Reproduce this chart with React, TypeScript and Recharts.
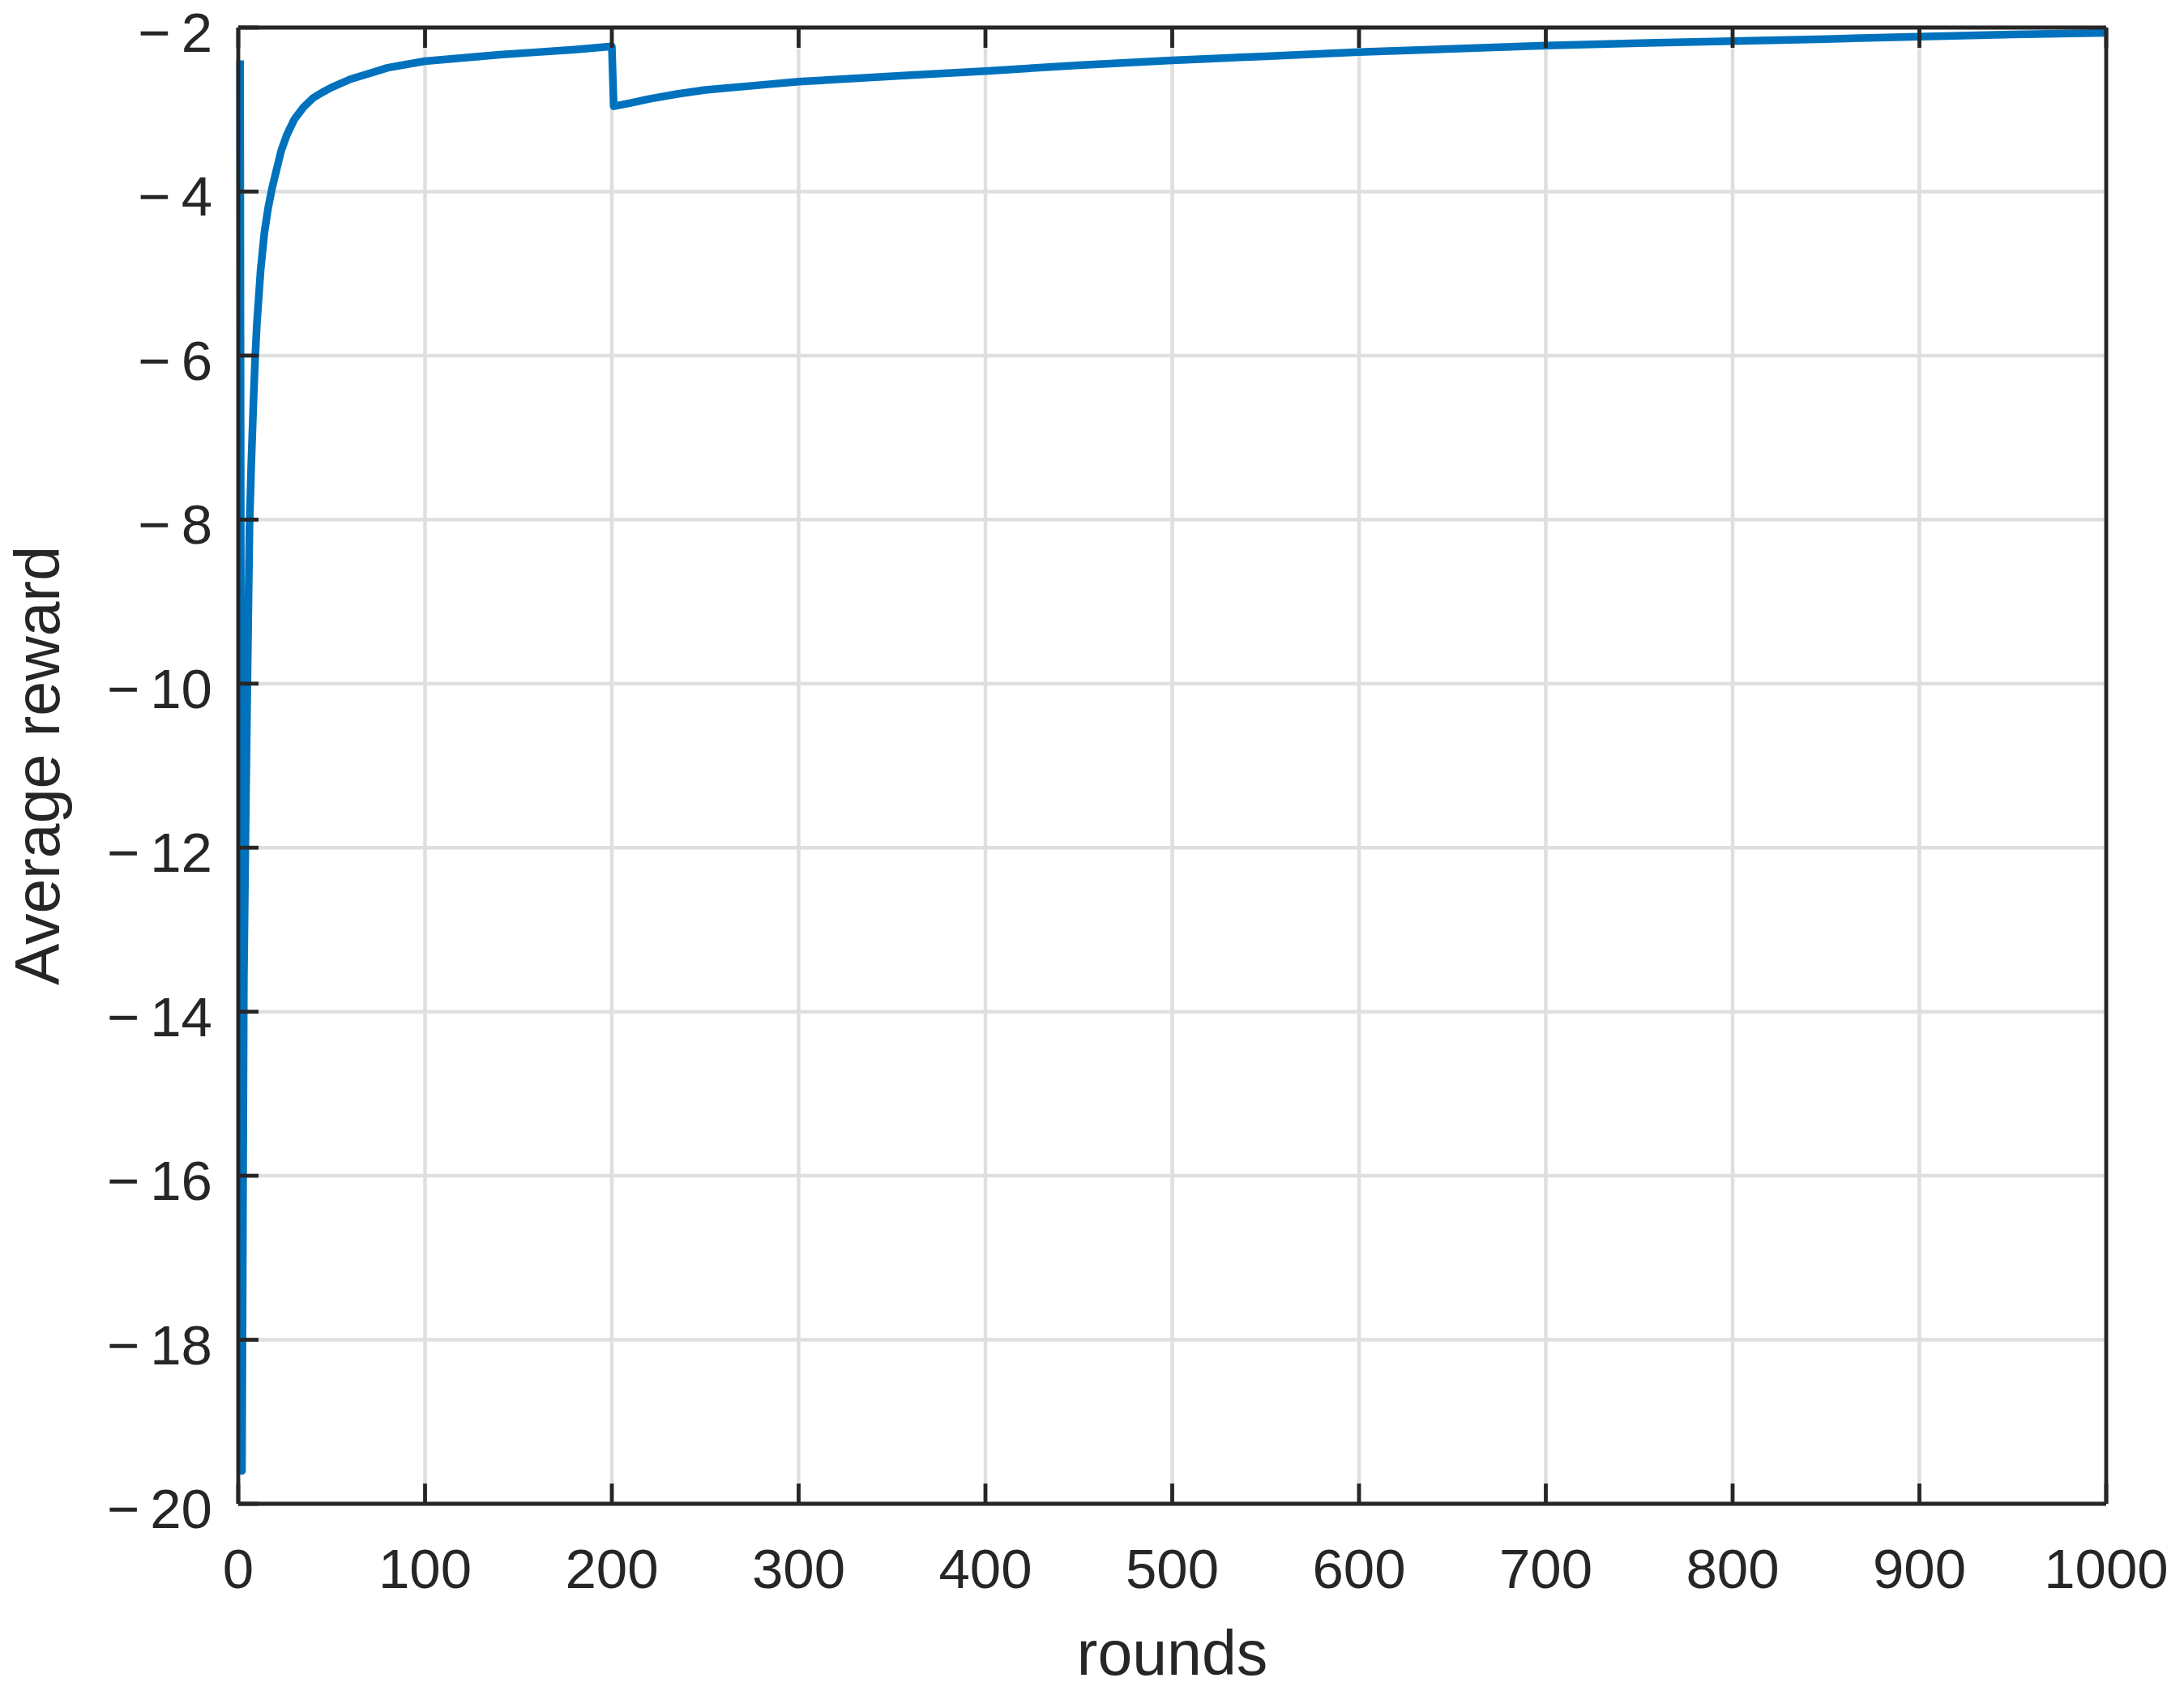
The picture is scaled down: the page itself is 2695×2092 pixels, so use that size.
import { LineChart, Line, XAxis, YAxis, CartesianGrid } from "recharts";

const rounds = [
  1, 2, 3, 4, 5, 6, 7, 8, 9, 10, 12, 14, 16, 18, 20, 23, 26, 30, 35, 40, 45, 50, 60, 70, 80, 90, 100,
  120, 140, 160, 180, 200, 201, 210, 220, 235, 250, 275, 300, 330, 360, 400, 450, 500, 550, 600, 650,
  700, 750, 800, 850, 900, 950, 1000,
];
const avgReward = [
  -2.4, -19.6, -13.6, -11.6, -9.8, -8.1, -7.3, -6.65, -6.05, -5.6, -4.95, -4.5, -4.2, -3.97, -3.78,
  -3.5, -3.31, -3.12, -2.97, -2.86, -2.79, -2.73, -2.63, -2.56, -2.49, -2.45, -2.41, -2.37, -2.33,
  -2.3, -2.27, -2.23, -2.96, -2.92, -2.87, -2.81, -2.76, -2.71, -2.66, -2.62, -2.58, -2.53, -2.46,
  -2.4, -2.35, -2.3, -2.26, -2.22, -2.19, -2.165, -2.14, -2.11, -2.085, -2.065,
];
const xTicks = [0, 100, 200, 300, 400, 500, 600, 700, 800, 900, 1000];
const yTicks = [-20, -18, -16, -14, -12, -10, -8, -6, -4, -2];

const data = rounds.map((r, i) => ({ round: r, reward: avgReward[i] }));

const INK = "#262626";
const FONT = "'Liberation Sans', Arial, Helvetica, sans-serif";
const TICK_LEN = 25;
const AXIS_W = 4.8;

function BottomTick({ x, y, payload }: any) {
  return (
    <g>
      <line x1={x} y1={y} x2={x} y2={y - TICK_LEN} stroke={INK} strokeWidth={AXIS_W} />
      <text x={x} y={y + 104} textAnchor="middle" fontFamily={FONT} fontSize={69} fill={INK}>
        {payload.value}
      </text>
    </g>
  );
}

// y labels: a minus sign, a small gap, then the magnitude
function LeftTick({ x, y, payload }: any) {
  const v = payload.value;
  return (
    <g>
      <line x1={x} y1={y} x2={x + TICK_LEN} y2={y} stroke={INK} strokeWidth={AXIS_W} />
      <text x={x - 32} y={y + 30} textAnchor="end" fontFamily={FONT} fontSize={69} fill={INK}>
        {v < 0 && <tspan>{"\u2212"}</tspan>}
        <tspan dx={v < 0 ? 13 : 0}>{Math.abs(v)}</tspan>
      </text>
    </g>
  );
}

function TopTick({ x, y }: any) {
  return <line x1={x} y1={y} x2={x} y2={y + TICK_LEN} stroke={INK} strokeWidth={AXIS_W} />;
}

function RightTick({ x, y }: any) {
  return <line x1={x} y1={y} x2={x - TICK_LEN} y2={y} stroke={INK} strokeWidth={AXIS_W} />;
}

export default function App() {
  return (
    <div style={{ position: "absolute", left: 0, top: 0, background: "#fff" }}>
      <LineChart width={2695} height={2092} data={data} margin={{ top: 33, right: 95, bottom: 0, left: 0 }}>
        <CartesianGrid stroke="#dfdfdf" strokeWidth={4.5} />
        <XAxis
          dataKey="round"
          type="number"
          domain={[0, 1000]}
          ticks={xTicks}
          interval={0}
          height={236}
          tickSize={0}
          tickMargin={0}
          tickLine={false}
          axisLine={{ stroke: INK, strokeWidth: AXIS_W }}
          tick={<BottomTick />}
          label={{
            value: "rounds",
            position: "insideBottom",
            offset: 25,
            fontFamily: FONT,
            fontSize: 77,
            fill: INK,
          }}
        />
        <XAxis
          xAxisId="top"
          orientation="top"
          dataKey="round"
          type="number"
          domain={[0, 1000]}
          ticks={xTicks}
          interval={0}
          height={1}
          tickSize={0}
          tickMargin={0}
          tickLine={false}
          axisLine={{ stroke: INK, strokeWidth: AXIS_W }}
          tick={<TopTick />}
        />
        <YAxis
          type="number"
          domain={[-20, -2]}
          ticks={yTicks}
          interval={0}
          width={294}
          tickSize={0}
          tickMargin={0}
          tickLine={false}
          axisLine={{ stroke: INK, strokeWidth: AXIS_W }}
          tick={<LeftTick />}
          label={{
            value: "Average reward",
            angle: -90,
            position: "insideLeft",
            offset: 0,
            dx: 46,
            fontFamily: FONT,
            fontSize: 77,
            fill: INK,
            style: { textAnchor: "middle" },
          }}
        />
        <YAxis
          yAxisId="right"
          orientation="right"
          type="number"
          domain={[-20, -2]}
          ticks={yTicks}
          interval={0}
          width={1}
          tickSize={0}
          tickMargin={0}
          tickLine={false}
          axisLine={{ stroke: INK, strokeWidth: AXIS_W }}
          tick={<RightTick />}
        />
        <Line
          type="linear"
          dataKey="reward"
          stroke="#0072BD"
          strokeWidth={9.5}
          strokeLinejoin="round"
          dot={false}
          isAnimationActive={false}
        />
      </LineChart>
    </div>
  );
}
